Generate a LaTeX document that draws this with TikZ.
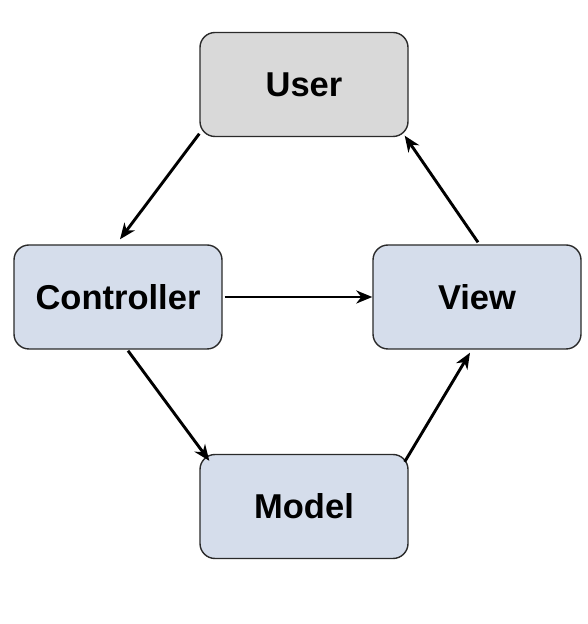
\documentclass[tikz,border=0pt]{standalone}
\usepackage{fontspec}
\setmainfont{Liberation Sans}
\usetikzlibrary{arrows.meta}
\definecolor{userfill}{HTML}{D9D9D9}
\definecolor{boxfill}{HTML}{D5DDEB}
\definecolor{boxline}{HTML}{2A2A2A}
\newcommand{\boxtext}[1]{\raisebox{-1.5pt}{#1}}
\begin{document}
\begin{tikzpicture}[x=1pt,y=1pt,
  box/.style={draw=boxline, line width=1.4pt, rounded corners=15pt, minimum width=208pt, minimum height=104pt, inner sep=0pt, font=\fontsize{34.5}{40}\selectfont\bfseries, fill=boxfill},
  conn/.style={line width=2.9pt, -{Stealth[length=16pt,width=13pt,inset=5pt]}}]
\useasboundingbox (0,0) rectangle (588,624);
\node[box, fill=userfill] (User) at (304,539.5) {\boxtext{User}};
\node[box] (Controller) at (118,327) {\boxtext{Controller}};
\node[box] (View) at (477,327) {\boxtext{View}};
\node[box] (Model) at (304,117.5) {\boxtext{Model}};
\draw[conn] ([yshift=3.5pt]User.south west) -- ([xshift=2pt,yshift=5pt]Controller.north);
\draw[conn] ([xshift=2pt]Controller.east) -- (View.west);
\draw[conn] ([xshift=10pt,yshift=-1pt]Controller.south) -- ([xshift=10pt,yshift=-7pt]Model.north west);
\draw[conn] ([xshift=-4pt,yshift=-8pt]Model.north east) -- ([xshift=-7pt,yshift=-3pt]View.south);
\draw[conn] ([xshift=1pt,yshift=2pt]View.north) -- ([xshift=-4pt,yshift=1.5pt]User.south east);
\end{tikzpicture}
\end{document}
